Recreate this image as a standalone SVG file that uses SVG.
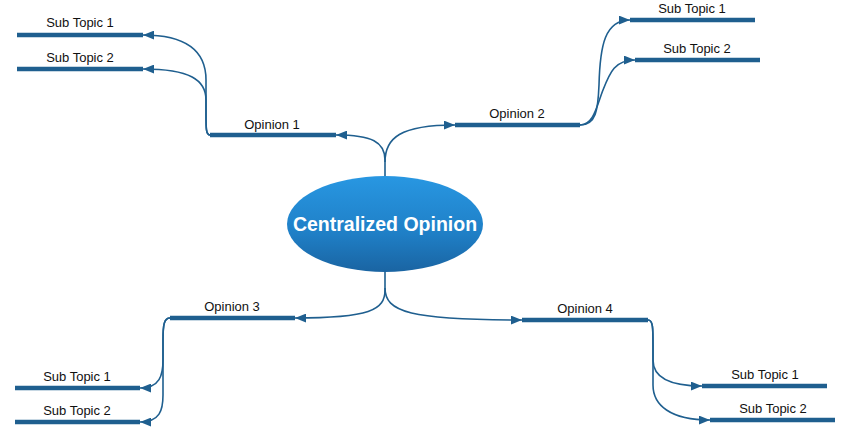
<svg xmlns="http://www.w3.org/2000/svg" width="842" height="434" viewBox="0 0 842 434">
<defs>
<linearGradient id="g" x1="0" y1="0" x2="0" y2="1">
<stop offset="0" stop-color="#2897e2"/>
<stop offset="0.6" stop-color="#1f7fc6"/>
<stop offset="1" stop-color="#1a64a2"/>
</linearGradient>
<marker id="arr" viewBox="0 0 10 8" refX="10" refY="4" markerWidth="11" markerHeight="9" markerUnits="userSpaceOnUse" orient="auto">
<path d="M0,0 L10,4 L0,8 Z" fill="#1f5f8f"/>
</marker>
<style>
.bar{stroke:#1f5f8f;stroke-width:4.5;fill:none}
.con{stroke:#1f5f8f;stroke-width:1.6;fill:none;marker-end:url(#arr)}
.lbl{font-family:"Liberation Sans",Arial,sans-serif;font-size:13px;fill:#111;text-anchor:middle}
.ctr{font-family:"Liberation Sans",Arial,sans-serif;font-size:19.5px;font-weight:bold;fill:#fff;text-anchor:middle}
</style>
</defs>
<rect width="842" height="434" fill="#fff"/>
<g id="connectors">
<path class="con" d="M385,176 L385,160 C385,142 372,135 336,135"/>
<path class="con" d="M385,162 C385,138 400,125 455,125"/>
<path class="con" d="M385,272 L385,290 C385,310 370,318 295,318"/>
<path class="con" d="M385,288 C385,312 410,320 522,320"/>
<path class="con" d="M210,135 C206,135 206,128 206,115 L206,80 C206,50 185,35 143,35"/>
<path class="con" d="M210,135 C206,135 206,128 206,115 L206,100 C206,80 190,69 143,69"/>
<path class="con" d="M580,125 C596,125 598,110 599,85 C600,45 605,20 630,20"/>
<path class="con" d="M580,125 C594,125 597,105 603,90 C610,72 615,60 635,60"/>
<path class="con" d="M170,318 C164,318 163,325 163,340 L163,360 C163,375 160,388 140,388"/>
<path class="con" d="M170,318 C164,318 163,325 163,340 L163,395 C163,410 160,422 140,422"/>
<path class="con" d="M648,320 C653,320 653,328 653,345 L653,360 C653,378 670,386 702,386"/>
<path class="con" d="M648,320 C653,320 653,328 653,345 L653,385 C653,405 670,420 710,420"/>
</g>
<g id="center">
<ellipse cx="385" cy="224" rx="98" ry="48" fill="url(#g)"/>
<text class="ctr" x="385" y="231">Centralized Opinion</text>
</g>
<g id="opinion1"><line class="bar" x1="210" y1="135" x2="336" y2="135"/><text class="lbl" x="272" y="129">Opinion 1</text></g>
<g id="opinion2"><line class="bar" x1="455" y1="125" x2="580" y2="125"/><text class="lbl" x="517" y="118">Opinion 2</text></g>
<g id="opinion3"><line class="bar" x1="170" y1="318" x2="295" y2="318"/><text class="lbl" x="232" y="311">Opinion 3</text></g>
<g id="opinion4"><line class="bar" x1="522" y1="320" x2="648" y2="320"/><text class="lbl" x="585" y="313">Opinion 4</text></g>
<g id="op1-sub1"><line class="bar" x1="17" y1="35" x2="143" y2="35"/><text class="lbl" x="80" y="27">Sub Topic 1</text></g>
<g id="op1-sub2"><line class="bar" x1="17" y1="69" x2="143" y2="69"/><text class="lbl" x="80" y="62">Sub Topic 2</text></g>
<g id="op2-sub1"><line class="bar" x1="630" y1="20" x2="755" y2="20"/><text class="lbl" x="692" y="13">Sub Topic 1</text></g>
<g id="op2-sub2"><line class="bar" x1="635" y1="60" x2="760" y2="60"/><text class="lbl" x="697" y="53">Sub Topic 2</text></g>
<g id="op3-sub1"><line class="bar" x1="15" y1="388" x2="140" y2="388"/><text class="lbl" x="77" y="381">Sub Topic 1</text></g>
<g id="op3-sub2"><line class="bar" x1="15" y1="422" x2="140" y2="422"/><text class="lbl" x="77" y="415">Sub Topic 2</text></g>
<g id="op4-sub1"><line class="bar" x1="702" y1="386" x2="827" y2="386"/><text class="lbl" x="765" y="379">Sub Topic 1</text></g>
<g id="op4-sub2"><line class="bar" x1="710" y1="420" x2="835" y2="420"/><text class="lbl" x="773" y="413">Sub Topic 2</text></g>
</svg>
